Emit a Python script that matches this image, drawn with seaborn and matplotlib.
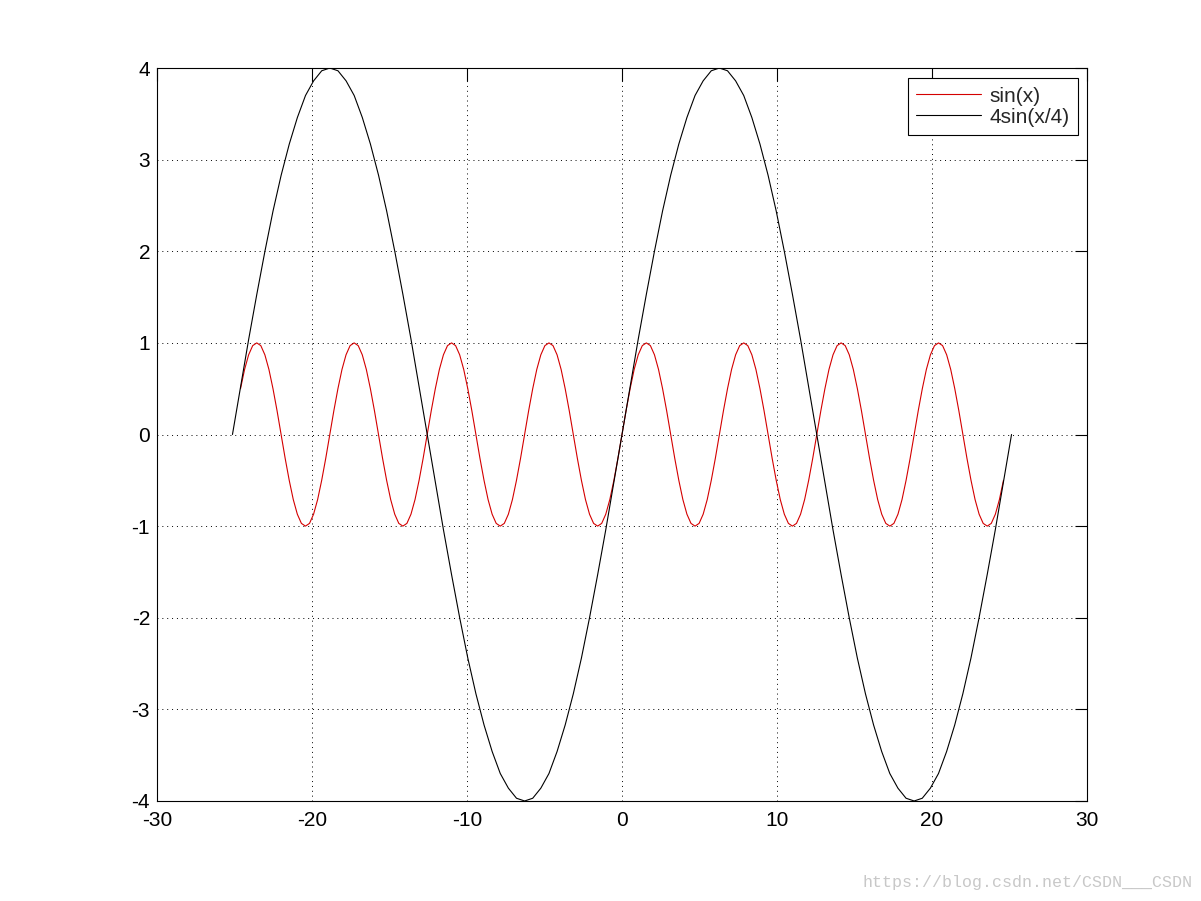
import numpy as np
import matplotlib.pyplot as plt
import seaborn as sns

# x extent of each curve
red_x_range = (-24.61, 24.61)
black_x_range = (-25.13, 25.13)

# sin(x), values at even steps along x
red_y = [
    0.5, 0.71, 0.87, 0.97, 1.0, 0.97, 0.87, 0.71, 0.5, 0.26, 0.0, -0.26, -0.5, -0.71, -0.87, -0.97, -1.0, -0.97, -0.87, -0.71, -0.5, -0.26, 0.0, 0.26,
    0.5, 0.71, 0.87, 0.97, 1.0, 0.97, 0.87, 0.71, 0.5, 0.26, 0.0, -0.26, -0.5, -0.71, -0.87, -0.97, -1.0, -0.97, -0.87, -0.71, -0.5, -0.26, 0.0, 0.26,
    0.5, 0.71, 0.87, 0.97, 1.0, 0.97, 0.87, 0.71, 0.5, 0.26, 0.0, -0.26, -0.5, -0.71, -0.87, -0.97, -1.0, -0.97, -0.87, -0.71, -0.5, -0.26, 0.0, 0.26,
    0.5, 0.71, 0.87, 0.97, 1.0, 0.97, 0.87, 0.71, 0.5, 0.26, 0.0, -0.26, -0.5, -0.71, -0.87, -0.97, -1.0, -0.97, -0.87, -0.71, -0.5, -0.26, 0.0, 0.26,
    0.5, 0.71, 0.87, 0.97, 1.0, 0.97, 0.87, 0.71, 0.5, 0.26, 0.0, -0.26, -0.5, -0.71, -0.87, -0.97, -1.0, -0.97, -0.87, -0.71, -0.5, -0.26, 0.0, 0.26,
    0.5, 0.71, 0.87, 0.97, 1.0, 0.97, 0.87, 0.71, 0.5, 0.26, 0.0, -0.26, -0.5, -0.71, -0.87, -0.97, -1.0, -0.97, -0.87, -0.71, -0.5, -0.26, 0.0, 0.26,
    0.5, 0.71, 0.87, 0.97, 1.0, 0.97, 0.87, 0.71, 0.5, 0.26, 0.0, -0.26, -0.5, -0.71, -0.87, -0.97, -1.0, -0.97, -0.87, -0.71, -0.5, -0.26, 0.0, 0.26,
    0.5, 0.71, 0.87, 0.97, 1.0, 0.97, 0.87, 0.71, 0.5, 0.26, 0.0, -0.26, -0.5, -0.71, -0.87, -0.97, -1.0, -0.97, -0.87, -0.71, -0.5,
]

# 4sin(x/4), values at even steps along x
black_y = [
    0.0, 0.52, 1.04, 1.53, 2.0, 2.44, 2.83, 3.17, 3.46, 3.7, 3.86, 3.97, 4.0,
    3.97, 3.86, 3.7, 3.46, 3.17, 2.83, 2.44, 2.0, 1.53, 1.04, 0.52, 0.0,
    -0.52, -1.04, -1.53, -2.0, -2.44, -2.83, -3.17, -3.46, -3.7, -3.86, -3.97, -4.0,
    -3.97, -3.86, -3.7, -3.46, -3.17, -2.83, -2.44, -2.0, -1.53, -1.04, -0.52, 0.0,
    0.52, 1.04, 1.53, 2.0, 2.44, 2.83, 3.17, 3.46, 3.7, 3.86, 3.97, 4.0,
    3.97, 3.86, 3.7, 3.46, 3.17, 2.83, 2.44, 2.0, 1.53, 1.04, 0.52, 0.0,
    -0.52, -1.04, -1.53, -2.0, -2.44, -2.83, -3.17, -3.46, -3.7, -3.86, -3.97, -4.0,
    -3.97, -3.86, -3.7, -3.46, -3.17, -2.83, -2.44, -2.0, -1.53, -1.04, -0.52, 0.0,
]

labels = ["sin(x)", "4sin(x/4)"]
x_ticks = [-30, -20, -10, 0, 10, 20, 30]
y_ticks = [-4, -3, -2, -1, 0, 1, 2, 3, 4]

sns.set_style("white")
plt.rcParams["font.family"] = ["Liberation Sans", "DejaVu Sans"]
plt.rcParams["axes.unicode_minus"] = False

fig = plt.figure(figsize=(12.01, 9.01), dpi=100)
ax = fig.add_axes([0.1307, 0.111, 0.7744, 0.8135])

red_x = np.linspace(red_x_range[0], red_x_range[1], len(red_y))
black_x = np.linspace(black_x_range[0], black_x_range[1], len(black_y))

sns.lineplot(x=red_x, y=red_y, sort=False, estimator=None, color="#d40000",
             linewidth=0.8, label=labels[0], ax=ax)
sns.lineplot(x=black_x, y=black_y, sort=False, estimator=None, color="black",
             linewidth=0.8, label=labels[1], ax=ax)

ax.set_xlim(-30, 30)
ax.set_ylim(-4, 4)
ax.set_xticks(x_ticks)
ax.set_yticks(y_ticks)
ax.grid(True, linestyle=(0, (1, 4)), color="black", linewidth=0.7)
ax.tick_params(direction="in", top=True, right=True, length=9, width=0.8,
               labelsize=15, colors="black")
ax.tick_params(axis="x", pad=7)
ax.tick_params(axis="y", pad=5)
for sp in ax.spines.values():
    sp.set_color("black")
    sp.set_linewidth(0.8)

leg = ax.legend(loc="upper right", bbox_to_anchor=(0.990, 0.986), borderaxespad=0,
                fancybox=False, edgecolor="black", framealpha=1, fontsize=15,
                handlelength=3.1, handletextpad=0.4, labelspacing=0.1, borderpad=0.4)
leg.get_frame().set_linewidth(0.8)

fig.text(862 / 1201, 0.0155, "https://blog.csdn.net/CSDN___CSDN",
         family="Liberation Mono", fontsize=12, color="#c8c8c8", va="baseline")

fig.savefig("out.png", dpi=100)
